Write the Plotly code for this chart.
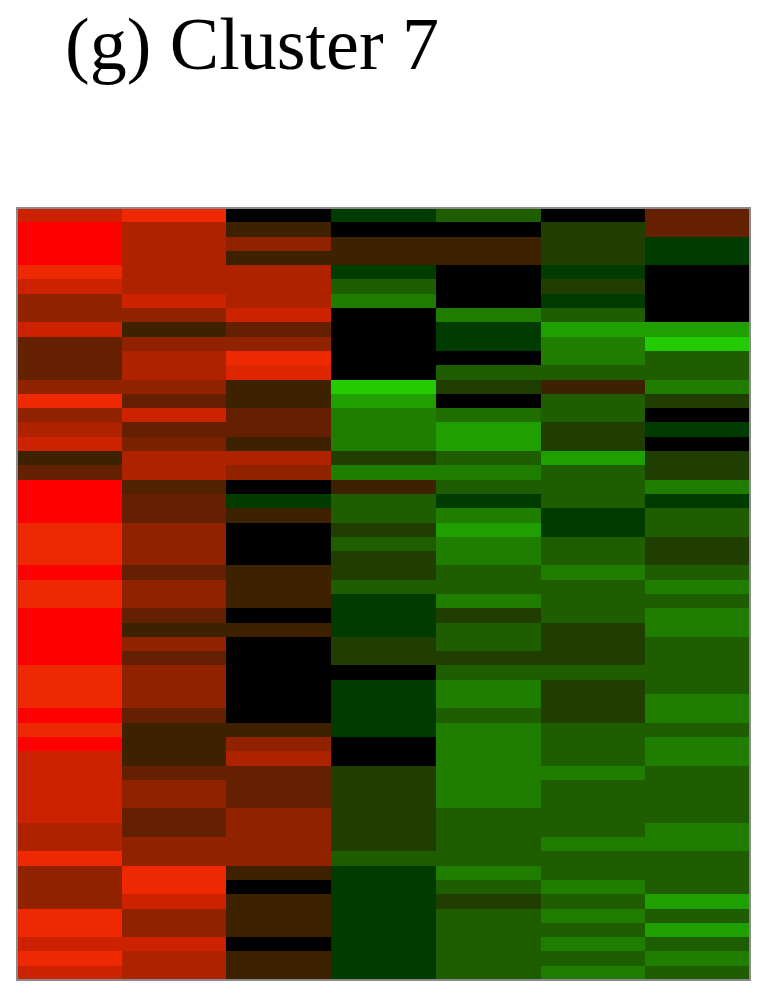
import plotly.graph_objects as go

title_text = "(g) Cluster 7"
samples = ["S1", "S2", "S3", "S4", "S5", "S6", "S7"]

# expression levels per column (positive = red, negative = green), rows top -> bottom
col1 = [4, 6, 6, 6, 5, 4, 3, 3, 4, 2, 2, 2, 3, 5, 3, 3.5, 4, 1, 2, 6, 6, 6, 5, 5, 5, 6, 5,
        5, 6, 6, 6, 6, 5, 5, 5, 6, 5, 6, 4, 4, 4, 4, 4, 3.5, 3.5, 5, 3, 3, 3, 5, 5, 4, 5, 4]
col2 = [5, 3.5, 3.5, 3.5, 3.5, 3.5, 4, 3, 1, 3, 3.5, 3.5, 3, 2, 4, 2, 2.5, 3.5, 3.5, 1.5, 2, 2, 3, 3, 3, 2, 3,
        3, 2, 1, 3, 2, 3, 3, 3, 2, 1, 1, 1, 2, 3, 3, 2, 2, 3, 3, 5, 5, 4, 3, 3, 4, 3.5, 3.5]
col3 = [0, 1, 3, 1, 3.5, 3.5, 3.5, 4, 2, 3, 5, 4.5, 1, 1, 2, 2, 1, 3.5, 3, 0, -1, 1, 0, 0, 0, 1, 1,
        1, 0, 1, 0, 0, 0, 0, 0, 0, 1, 3, 3.5, 2, 2, 2, 3, 3, 3, 3, 1, 0, 1, 1, 1, 0, 1, 1]
col4 = [-1, 0, 1, 1, -1, -3, -4, 0, 0, 0, 0, 0, -6, -5, -4, -4, -4, -2, -4, 1, -3, -3, -2, -3, -2, -2, -3,
        -1, -1, -1, -2, -2, 0, -1, -1, -1, -1, 0, 0, -2, -2, -2, -2, -2, -2, -3, -1, -1, -1, -1, -1, -1, -1, -1]
col5 = [-3, 0, 1, 1, 0, 0, 0, -4, -1, -1, 0, -3, -2, 0, -3.5, -5, -5, -3, -4, -3, -1, -4, -5, -4, -4, -3, -3,
        -4, -2, -3, -3, -2, -3, -4, -4, -3, -4, -4, -4, -4, -4, -4, -3, -3, -3, -3, -4, -3, -2, -3, -3, -3, -3, -3]
col6 = [0, -2, -2, -2, -1, -2, -1, -3, -5, -4, -4, -3, 1, -3, -3, -2, -2, -5, -3, -3, -3, -1, -1, -3, -3, -4, -3,
        -3, -3, -2, -2, -2, -3, -2, -2, -2, -3, -3, -3, -4, -3, -3, -3, -3, -4, -3, -3, -4, -3, -4, -3, -4, -3, -4]
col7 = [2, 2, -1, -1, 0, 0, 0, 0, -5, -6, -3, -3, -4, -2, 0, -1, 0, -2, -2, -4, -1, -3, -3, -2, -2, -3, -4,
        -3, -4, -4, -3, -3, -3, -3, -4, -4, -3, -4, -4, -3, -3, -3, -3, -4, -4, -3, -3, -3, -5, -3, -5, -3, -4, -3]

columns = [col1, col2, col3, col4, col5, col6, col7]
n_rows = len(col1)
z = [[c[r] for c in columns] for r in range(n_rows)]

level_colors = [
    (-6, "#22CC00"), (-5, "#1FA000"), (-4, "#1F7E00"), (-3, "#1F5E00"),
    (-2, "#1F3E00"), (-1, "#003C00"), (0, "#000000"), (1, "#3E2200"),
    (2, "#642000"), (3, "#902200"), (4, "#CC2200"), (5, "#EE2800"), (6, "#FF0000"),
]
colorscale = [[(lv + 6) / 12, c] for lv, c in level_colors]

fig = go.Figure(go.Heatmap(
    z=z,
    x=list(range(len(columns))),
    y=list(range(n_rows)),
    colorscale=colorscale,
    zmin=-6, zmax=6,
    showscale=False,
    hoverinfo="skip",
))

W, H = 767, 1000
ml, mr, mt, mb = 17, 17, 208, 20
ph = H - mt - mb
pw = W - ml - mr

fig.update_layout(
    width=W, height=H,
    margin=dict(l=ml, r=mr, t=mt, b=mb),
    paper_bgcolor="white", plot_bgcolor="white",
    xaxis=dict(visible=False, range=[-0.5, len(columns) - 0.5], fixedrange=True),
    yaxis=dict(visible=False, range=[n_rows - 0.5, -0.5], fixedrange=True),
    shapes=[dict(type="rect", xref="paper", yref="paper", x0=0, y0=0, x1=1, y1=1,
                 line=dict(color="#8a8a8a", width=2))],
    annotations=[dict(
        text=title_text, xref="paper", yref="paper",
        x=(63 - ml) / pw, y=(H - mb - 44) / ph,
        xanchor="left", yanchor="middle",
        showarrow=False,
        font=dict(family="Liberation Serif", size=74, color="black"),
    )],
)

fig.write_html("out.html", config={"displayModeBar": False},
               post_script="document.body.style.margin='0px';")
